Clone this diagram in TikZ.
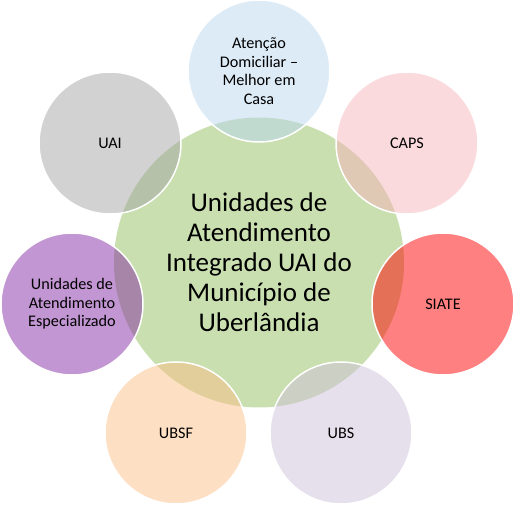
\documentclass[tikz,border=0pt]{standalone}
\usepackage{fontspec}
\setmainfont{Carlito}
\definecolor{hubgreen}{RGB}{201,223,175}
\definecolor{cblue}{RGB}{187,215,239}
\definecolor{cpink}{RGB}{245,181,187}
\definecolor{cred}{RGB}{255,2,2}
\definecolor{clav}{RGB}{205,193,217}
\definecolor{cpeach}{RGB}{251,191,137}
\definecolor{cpurple}{RGB}{133,45,165}
\definecolor{cgray}{RGB}{165,165,165}
\begin{document}
\begin{tikzpicture}[x=1pt,y=-1pt,
  outer/.style={circle, minimum size=142pt, inner sep=0pt, draw=white, line width=1.5pt,
    fill opacity=0.5, text opacity=1, align=center, text=black,
    font=\fontsize{16.2}{18.5}\selectfont},
  hub/.style={circle, minimum size=290pt, inner sep=0pt, fill=hubgreen, align=center, text=black,
    font=\fontsize{27}{30}\selectfont}]
\useasboundingbox (0,0) rectangle (523,513);
\node[hub] (hub) at (259,262.5) {Unidades de\\Atendimento\\Integrado UAI do\\Município de\\Uberlândia};
\node[outer, fill=cblue] (ad) at (259,71) {Atenção\\Domiciliar –\\Melhor em\\Casa};
\node[outer, fill=cpink] (caps) at (407,143) {CAPS};
\node[outer, fill=cred] (siate) at (443,304) {SIATE};
\node[outer, fill=clav] (ubs) at (341,433) {UBS};
\node[outer, fill=cpeach] (ubsf) at (176,433) {UBSF};
\node[outer, fill=cpurple] (uae) at (72,304) {Unidades de\\Atendimento\\Especializado};
\node[outer, fill=cgray] (uai) at (110,143) {UAI};
\end{tikzpicture}
\end{document}
